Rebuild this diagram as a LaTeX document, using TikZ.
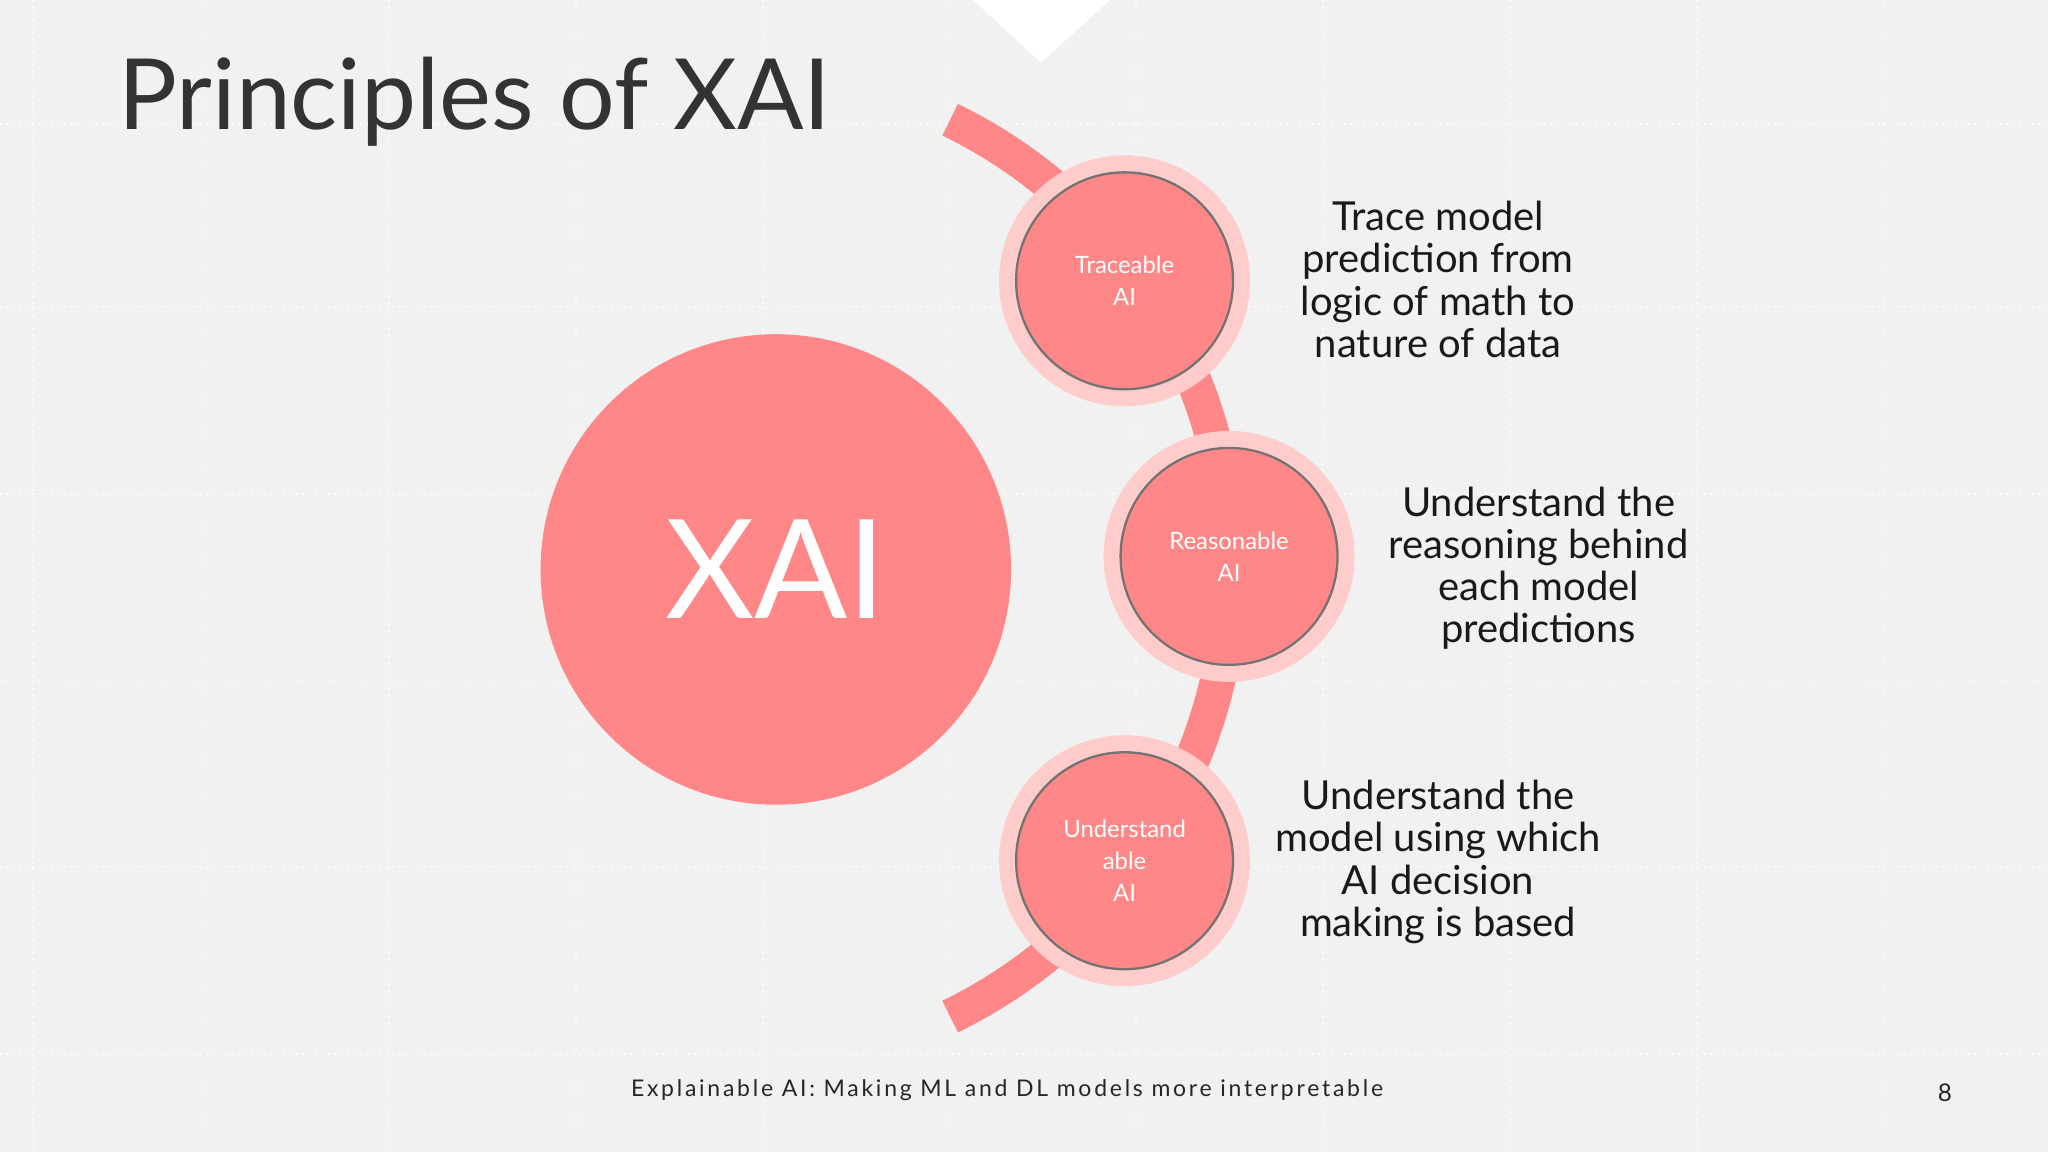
\documentclass[tikz,border=0pt]{standalone}
\usepackage{fontspec}
\setmainfont{Lato}
\newfontfamily\footfont[LetterSpace=12]{Lato}
\begin{document}
\begin{tikzpicture}[x=0.01cm,y=-0.01cm,
  salmon/.style={fill=salm,draw=none},
  outerc/.style={circle,fill=pinkl,minimum size=1.92cm,inner sep=0pt},
  innerc/.style={circle,fill=salm,draw=black!55,line width=0.5pt,minimum size=1.66cm,inner sep=0pt,align=center,text=white,font=\fontsize{5.2pt}{6.9pt}\selectfont},
  desc/.style={align=center,text=black!90,font=\fontsize{8.7pt}{9.2pt}\selectfont}]
\definecolor{salm}{HTML}{FF8787}
\definecolor{pinkl}{HTML}{FFCCCC}
\definecolor{bg}{HTML}{F1F1F1}
\useasboundingbox (0,0) rectangle (1568,882);
\fill[bg] (0,0) rectangle (1568,882);
\foreach \xx in {25,155,298,441,584,727,870,1013,1156,1299,1442}
  \draw[white!70!bg,densely dotted,line width=0.4pt] (\xx,0) -- (\xx,882);
\foreach \yy in {95,235,378,521,664,807}
  \draw[white!70!bg,densely dotted,line width=0.4pt] (0,\yy) -- (1568,\yy);
\fill[white] (745,0) -- (850,0) -- (797,48) -- cycle;
\node[anchor=base west,text=black!80,font=\fontsize{21.4pt}{21.4pt}\selectfont,inner sep=0pt] (title) at (90,99) {Principles of XAI};
\draw[salm,line width=0.27cm] (560,435) ++(-64:382) arc[start angle=-64,end angle=64,radius=382];
\node[circle,salmon,minimum size=3.6cm,inner sep=0pt,text=white,font=\fontsize{30pt}{30pt}\selectfont] (xai) at (594,436) {XAI};
\node[outerc] (o1) at (861,215) {};
\node[innerc] (t1) at (861,215) {Traceable\\AI};
\node[outerc] (o2) at (941,426) {};
\node[innerc] (t2) at (941,426) {Reasonable\\AI};
\node[outerc] (o3) at (861,659) {};
\node[innerc] (t3) at (861,659) {Understand\\able\\AI};
\node[desc] (d1) at (1101,214) {Trace model\\prediction from\\logic of math to\\nature of data};
\node[desc] (d2) at (1178,435) {Understand the\\reasoning behind\\each model\\predictions};
\node[desc] (d3) at (1101,660) {Understand the\\model using which\\AI decision\\making is based};
\node[font=\footfont\fontsize{5.0pt}{6pt}\selectfont,text=black!85] (foot) at (771,835) {Explainable AI: Making ML and DL models more interpretable};
\node[font=\fontsize{5.3pt}{6pt}\selectfont,text=black!85] (pg) at (1489,837) {8};
\end{tikzpicture}
\end{document}
